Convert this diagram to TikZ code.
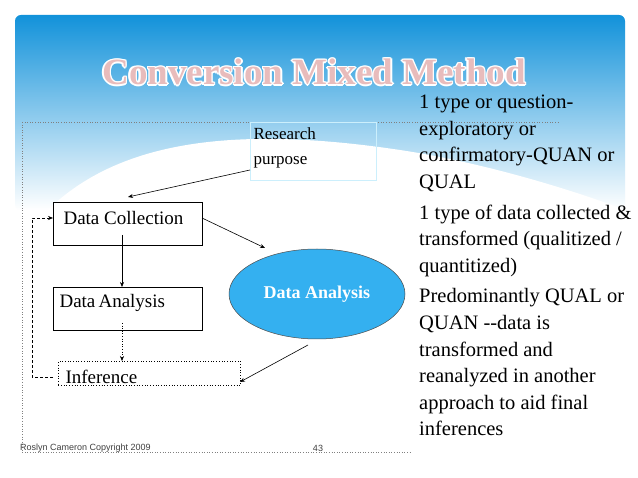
\documentclass[tikz,border=0pt]{standalone}
\usepackage{fontspec}
\setmainfont{Liberation Serif}
\newfontfamily\timesf{Liberation Serif}
\newfontfamily\arialf{Liberation Sans}
\usetikzlibrary{shapes.geometric,arrows.meta}
\definecolor{hdrtop}{RGB}{18,146,218}
\definecolor{ellblue}{RGB}{52,176,240}
\definecolor{titlepink}{RGB}{232,188,188}
\tikzset{
  box/.style={draw,line width=0.6pt,minimum width=149pt,minimum height=43pt,anchor=north west,inner sep=0pt},
  lbl/.style={font=\timesf\fontsize{19}{22}\selectfont,anchor=west},
  conn/.style={-{Stealth[length=5pt,width=4pt]},line width=0.6pt},
  dotframe/.style={dotted,gray,line width=0.6pt},
  ttl/.style={font=\timesf\fontsize{37}{40}\selectfont\bfseries},
}
\begin{document}
\begin{tikzpicture}[x=1pt,y=-1pt]
\useasboundingbox (0,0) rectangle (638,478);
\fill[white] (0,0) rectangle (638,478);
% header
\shade[top color=hdrtop,bottom color=white,rounded corners=6pt] (15,15) rectangle (625,210);
\fill[white] (15,250) .. controls (80,150) and (200,120) .. (400,150) .. controls (500,165) and (600,200) .. (625,210) -- (625,260) -- (15,260) -- cycle;
\foreach \dx/\dy in {-1.5/0,1.5/0,0/-1.5,0/1.5,-1.1/-1.1,1.1/1.1,-1.1/1.1,1.1/-1.1}{
  \node[ttl,text=white] at (314+\dx,72+\dy) {Conversion Mixed Method};
}
\node[ttl,text=titlepink] (title) at (314,72) {Conversion Mixed Method};
% dotted frame
\draw[dotframe] (22,122) -- (22,452) -- (410,452);
\draw[dotframe] (22,122) -- (560,122);
% research purpose
\node[draw=cyan!20,line width=0.5pt,minimum width=126pt,minimum height=58pt,anchor=north west] (rp) at (250,122) {};
\node[font=\timesf\fontsize{17}{25}\selectfont,align=left,anchor=north west] (rpt) at (250,124) {Research\\purpose};
% boxes
\node[box] (dc) at (53,202) {};
\node[lbl] at (60,218) {Data Collection};
\node[box] (da) at (53,287) {};
\node[lbl] at (56,303) {Data\,Analysis};
\node[draw,dotted,line width=0.7pt,minimum width=182pt,minimum height=24pt,anchor=north west,inner sep=0pt] (inf) at (58,361) {};
\node[lbl] at (62,377) {Inference};
% ellipse
\node[ellipse,fill=ellblue,draw=black!70,line width=0.5pt,minimum width=176pt,minimum height=90pt,text=white,font=\timesf\fontsize{18}{20}\selectfont\bfseries] (ell) at (317,294) {Data Analysis};
% arrows
\coordinate (rpa) at (250,170);
\coordinate (dca) at (128,197);
\draw[conn] (rpa) -- (dca);
\coordinate (dcr) at (202,218);
\coordinate (ella) at (265,248);
\draw[conn] (dcr) -- (ella);
\coordinate (dcb) at (122,235);
\draw[conn] (dcb) -- (da.north -| dcb);
\coordinate (dab) at (122,323);
\draw[conn,dotted] (dab) -- (inf.north -| dab);
\coordinate (ellb) at (308,345);
\coordinate (infr) at (240,382);
\draw[conn] (ellb) -- (infr);
\coordinate (fb1) at (53,377);
\coordinate (fb2) at (32,377);
\coordinate (fb3) at (32,218);
\draw[conn,densely dashed] (fb1) -- (fb2) -- (fb3) -- (dc.west |- fb3);
% right text
\node[anchor=north west,align=left,font=\timesf\fontsize{20.5}{26.6}\selectfont,inner sep=0pt] (rt) at (419,95) {1 type or question-\\exploratory or\\confirmatory-QUAN or\\QUAL\\[4pt]1 type of data collected \&\\transformed (qualitized /\\quantitized)\\[4pt]Predominantly QUAL or\\QUAN --data is\\transformed and\\reanalyzed in another\\approach to aid final\\inferences};
% footer
\node[anchor=west,font=\arialf\fontsize{9}{10}\selectfont,text=black!75,inner sep=0pt] (ft) at (20,448) {Roslyn Cameron Copyright 2009};
\node[font=\arialf\fontsize{9}{10}\selectfont,text=black!75,inner sep=0pt] (pg) at (318,448) {43};
\end{tikzpicture}
\end{document}
